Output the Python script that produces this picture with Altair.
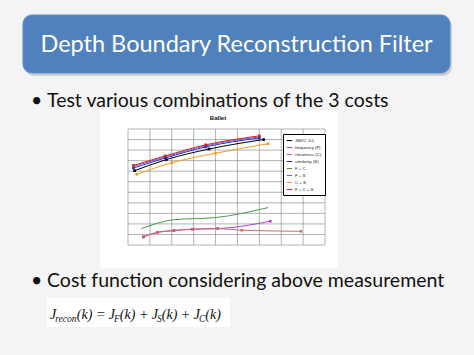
import altair as alt
import pandas as pd

# ---------------- data ----------------
series_names = ["JMVC 3.0", "frequency (F)", "closeness (C)", "similarity (S)",
                "F + C", "F + S", "C + S", "F + C + S"]
series_colors = ["#000000", "#b040c8", "#c86a6a", "#1f2fd0",
                 "#4a9a4a", "#7a5cc8", "#f59a23", "#d42020"]
marker_series = ["JMVC 3.0", "frequency (F)", "closeness (C)", "similarity (S)",
                 "C + S", "F + C + S"]

jmvc_x = [430, 575, 770, 1020]
jmvc_y = [44.1, 46.2, 48.2, 50.0]
freq_x = [470, 535, 610, 695, 810, 1050]
freq_y = [31.5, 32.4, 32.7, 33.0, 33.1, 34.5]
close_x = [470, 535, 610, 695, 810, 920, 1190]
close_y = [31.6, 32.4, 32.8, 33.0, 33.1, 32.8, 32.6]
sim_x = [425, 570, 755, 1000]
sim_y = [44.6, 46.5, 48.6, 50.3]
fc_x = [460, 610, 800, 1040]
fc_y = [33.1, 34.8, 35.2, 37.1]
fs_x = [425, 570, 755, 1000]
fs_y = [44.9, 46.7, 48.8, 50.5]
cs_x = [440, 600, 800, 1040]
cs_y = [43.4, 45.6, 47.4, 49.2]
fcs_x = [425, 570, 755, 1000]
fcs_y = [45.1, 46.9, 49.0, 50.7]

x_ticks = [400, 500, 600, 700, 800, 900, 1000, 1100, 1200, 1300]
y_ticks = [30, 32, 34, 36, 38, 40, 42, 44, 46, 48, 50, 52]

slide_title = "Depth Boundary Reconstruction Filter"
bullet_1 = "Test various combinations of the 3 costs"
bullet_2 = "Cost function considering above measurement"
chart_title = "Ballet"
x_title = "Depth Rate (kb/s)"
y_title = "Depth Quality (dB)"

# formula tokens: (text, is_subscript)
formula_tokens = [("J", False), ("recon", True), ("(k) = ", False),
                  ("J", False), ("F", True), ("(k) + ", False),
                  ("J", False), ("S", True), ("(k) + ", False),
                  ("J", False), ("C", True), ("(k)", False)]

# ---------------- build table ----------------
all_x = [jmvc_x, freq_x, close_x, sim_x, fc_x, fs_x, cs_x, fcs_x]
all_y = [jmvc_y, freq_y, close_y, sim_y, fc_y, fs_y, cs_y, fcs_y]
rows = []
for name, xs, ys in zip(series_names, all_x, all_y):
    for i, (a, b) in enumerate(zip(xs, ys)):
        rows.append({"series": name, "rate": a, "quality": b, "order": i})
df = pd.DataFrame(rows)
df_pts = df[df["series"].isin(marker_series)]

one = pd.DataFrame({"a": [0]})

W, H = 197, 116
xscale = alt.Scale(domain=[400, 1300], nice=False, zero=False)
yscale = alt.Scale(domain=[30, 52], nice=False, zero=False)

def box(x1, x2, y1, y2, **kw):
    return alt.Chart(one).mark_rect(**kw).encode(
        x=alt.value(x1), x2=alt.value(x2), y=alt.value(y1), y2=alt.value(y2))

def txt(s, x, y, **kw):
    return alt.Chart(one).mark_text(text=s, **kw).encode(
        x=alt.value(x), y=alt.value(y))

# slide elements (pixel offsets relative to plot origin at 128,129)
shadow = box(-103, 324, -111, -53, fill="#c8c8c8", cornerRadius=9, opacity=0.8)
title_box = box(-105, 322, -114, -56, fill="#4f81bd", stroke="#5b8ccc",
                strokeWidth=1, cornerRadius=9)
title_txt = txt(slide_title, 108.5, -84, font="Lato", fontSize=23.5, color="#ffffff",
                align="center", baseline="middle")
BFS = 19.5
b1_dot = txt("•", -97, -22, font="Lato", fontSize=BFS, color="#111111", align="left",
             baseline="alphabetic")
b1_txt = txt(bullet_1, -81, -22, font="Lato", fontSize=BFS, color="#111111",
             align="left", baseline="alphabetic")
b2_dot = txt("•", -97, 158, font="Lato", fontSize=BFS, color="#111111", align="left",
             baseline="alphabetic")
b2_txt = txt(bullet_2, -81, 158, font="Lato", fontSize=BFS, color="#111111",
             align="left", baseline="alphabetic")

chart_bg = box(-28, 210, -19, 139, fill="#ffffff")
ballet = txt(chart_title, 90, -11, font="Liberation Sans", fontSize=6,
             fontWeight="bold", color="#111111", align="center", baseline="middle")

# formula (approximate advance widths for Times-like italic, em units)
fbox = box(-81, 102, 169, 198, fill="#ffffff")
fy = 190
fs_main = 14
fs_sub = 9.5
em = {"J": 0.444, "recon": 2.277, "F": 0.611, "S": 0.5, "C": 0.667,
      "(k) = ": 1.11 + 1.175, "(k) + ": 1.11 + 1.175, "(k)": 1.11}
formula_layers = []
cx = -78
for s, sub in formula_tokens:
    size = fs_sub if sub else fs_main
    if sub:
        cx -= 1
    formula_layers.append(txt(s, cx, fy + (3 if sub else 0), font="Liberation Serif",
                              fontStyle="italic", fontSize=size, color="#111111",
                              align="left", baseline="alphabetic"))
    cx += em[s] * size

# grid
xgrid = alt.Chart(pd.DataFrame({"v": x_ticks})).mark_rule(
    color="#808080", strokeWidth=0.6).encode(x=alt.X("v:Q", scale=xscale, axis=None))
ygrid = alt.Chart(pd.DataFrame({"v": y_ticks})).mark_rule(
    color="#808080", strokeWidth=0.6).encode(y=alt.Y("v:Q", scale=yscale, axis=None))

color = alt.Color("series:N", scale=alt.Scale(domain=series_names, range=series_colors),
                  legend=alt.Legend(orient="none", legendX=155, legendY=5, title=None,
                                    labelFontSize=4.3, labelFont="Liberation Sans",
                                    labelColor="#222222",
                                    symbolType="stroke", symbolSize=30,
                                    symbolStrokeWidth=1, padding=3, rowPadding=1,
                                    strokeColor="#000000", fillColor="#ffffff",
                                    labelLimit=60, symbolOffset=0, labelOffset=2,
                                    cornerRadius=0))

lines = alt.Chart(df).mark_line(strokeWidth=1, interpolate="monotone").encode(
    x=alt.X("rate:Q", scale=xscale,
            axis=alt.Axis(values=x_ticks, format="d", title=x_title, grid=False,
                          labelFontSize=5, titleFontSize=5, labelFont="Liberation Sans",
                          titleFont="Liberation Sans", titleFontWeight="bold",
                          labelColor="#222222", titleColor="#222222",
                          domainColor="#000000", tickColor="#000000", tickSize=3,
                          labelPadding=1, titlePadding=3, domainWidth=0.8)),
    y=alt.Y("quality:Q", scale=yscale,
            axis=alt.Axis(values=y_ticks, format=".1f", title=y_title, grid=False,
                          labelFontSize=5, titleFontSize=5, labelFont="Liberation Sans",
                          titleFont="Liberation Sans", titleFontWeight="bold",
                          labelColor="#222222", titleColor="#222222",
                          domainColor="#000000", tickColor="#000000", tickSize=3,
                          labelPadding=2, titlePadding=3, domainWidth=0.8)),
    color=color,
    order="order:Q",
)
points = alt.Chart(df_pts).mark_point(shape="square", filled=True, size=7, opacity=1).encode(
    x=alt.X("rate:Q", scale=xscale),
    y=alt.Y("quality:Q", scale=yscale),
    color=alt.Color("series:N", scale=alt.Scale(domain=series_names, range=series_colors),
                    legend=None),
)

chart = alt.layer(
    shadow, title_box, title_txt, b1_dot, b1_txt, b2_dot, b2_txt,
    chart_bg, ballet, fbox, *formula_layers,
    xgrid, ygrid, lines, points,
).properties(
    width=W, height=H,
    autosize=alt.AutoSizeParams(type="none"),
    padding={"left": 128, "top": 129, "right": 149, "bottom": 110},
    background="#f4f4f4",
).configure_view(stroke=None).configure_axis(zindex=1)

chart.save("out.html", embed_options={"renderer": "svg", "actions": False})
